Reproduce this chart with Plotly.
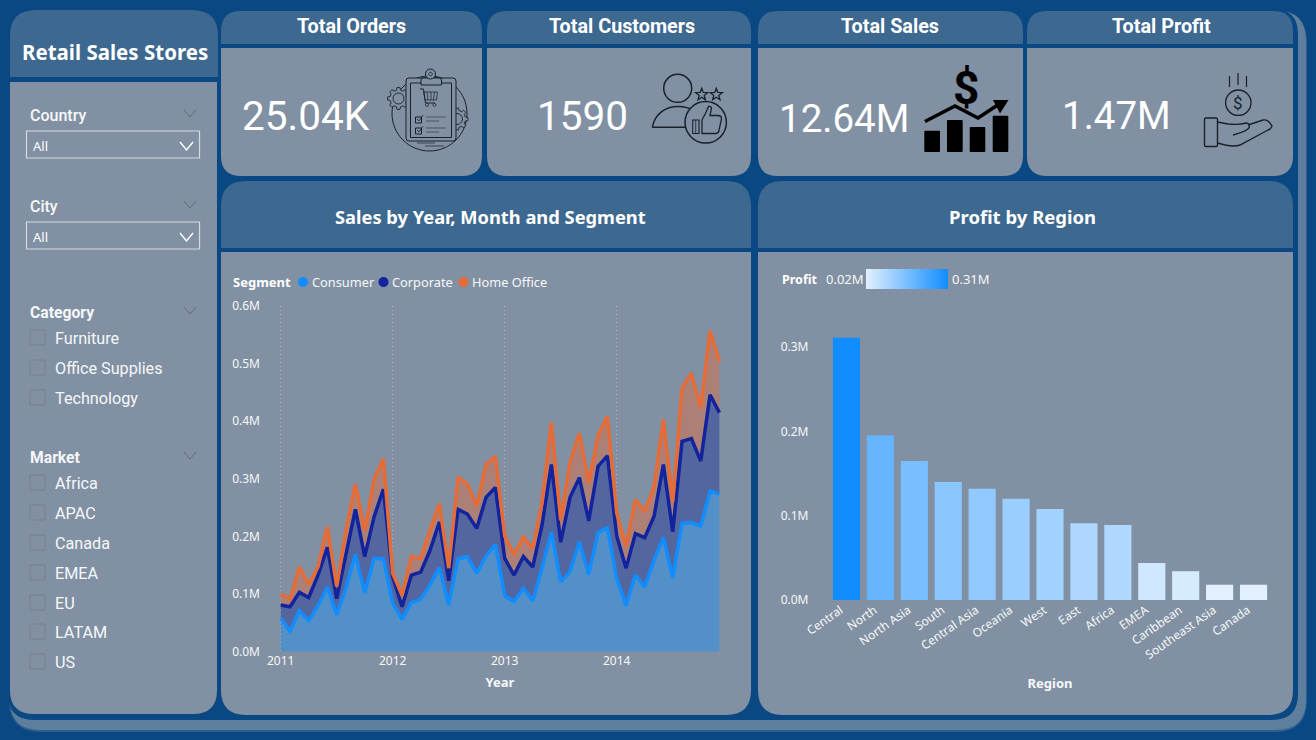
import re, math
import plotly.graph_objects as go

W, H = 1316, 740

# ---------- data ----------
years = ["2011", "2012", "2013", "2014"]
months = [f"{y}-{m:02d}" for y in years for m in range(1, 13)]
consumer = [.058,.036,.071,.054,.080,.112,.064,.110,.169,.102,.162,.161,
            .084,.056,.085,.091,.116,.146,.081,.161,.165,.136,.166,.186,
            .097,.087,.110,.088,.145,.207,.121,.139,.191,.134,.207,.215,
            .127,.080,.133,.112,.159,.198,.128,.223,.224,.218,.279,.273]
corporate = [.023,.042,.032,.040,.053,.069,.028,.063,.078,.063,.072,.121,
             .046,.022,.048,.047,.060,.079,.042,.086,.074,.078,.102,.099,
             .065,.046,.055,.059,.075,.118,.069,.129,.111,.093,.115,.125,
             .074,.065,.072,.086,.076,.127,.080,.142,.146,.113,.167,.142]
home_office = [.019,.013,.044,.023,.014,.036,.021,.038,.044,.045,.065,.053,
               .006,.020,.032,.024,.035,.032,.022,.056,.052,.039,.057,.054,
               .039,.035,.034,.032,.040,.073,.038,.061,.077,.066,.053,.068,
               .040,.038,.059,.045,.051,.078,.052,.093,.113,.092,.111,.089]
sales_ticks = [0.0, 0.1, 0.2, 0.3, 0.4, 0.5, 0.6]

regions = ["Central","North","North Asia","South","Central Asia","Oceania","West",
           "East","Africa","EMEA","Caribbean","Southeast Asia","Canada"]
profit = [.311,.195,.165,.140,.132,.120,.108,.091,.089,.044,.034,.018,.018]
profit_ticks = [0.0, 0.1, 0.2, 0.3]

category_items = ["Furniture", "Office Supplies", "Technology"]
market_items = ["Africa", "APAC", "Canada", "EMEA", "EU", "LATAM", "US"]
kpi_titles = ["Total Orders", "Total Customers", "Total Sales", "Total Profit"]
kpi_values = ["25.04K", "1590", "12.64M", "1.47M"]

# ---------- colours / fonts ----------
BG, HEAD, PANEL, BAND = "#094882", "#3D6890", "#8191A3", "#5E7E9D"
C_CONS, C_CORP, C_HOME = "#118DFF", "#12239E", "#E66C37"
INK = "#18212B"
F_DIN, F_UI = "Roboto", "Noto Sans"

# ---------- helpers (pixel space to paper space) ----------
def mp(d):
    out, i = [], 0
    for tok in re.findall(r"[MLCQZ]|-?\d+\.?\d*", d):
        if tok in "MLCQZ":
            out.append(tok); i = 0
        else:
            v = float(tok)
            out.append(f"{v / W:.5f}" if i % 2 == 0 else f"{1 - v / H:.5f}")
            i += 1
    return " ".join(out)

shapes, annots = [], []

def shape(d, fill=None, line=None, lw=1.0, layer="below", op=1):
    s = dict(type="path", xref="paper", yref="paper", path=mp(d), layer=layer, opacity=op,
             line=dict(color=line or "rgba(0,0,0,0)", width=lw if line else 0))
    if fill:
        s["fillcolor"] = fill
    shapes.append(s)

def rrect(x0, y0, x1, y1, tl=0, tr=0, br=0, bl=0):
    return (f"M {x0+tl} {y0} L {x1-tr} {y0} Q {x1} {y0} {x1} {y0+tr} L {x1} {y1-br} "
            f"Q {x1} {y1} {x1-br} {y1} L {x0+bl} {y1} Q {x0} {y1} {x0} {y1-bl} "
            f"L {x0} {y0+tl} Q {x0} {y0} {x0+tl} {y0} Z")

def circ(cx, cy, r):
    k = 0.5523 * r
    return (f"M {cx-r} {cy} C {cx-r} {cy-k} {cx-k} {cy-r} {cx} {cy-r} "
            f"C {cx+k} {cy-r} {cx+r} {cy-k} {cx+r} {cy} "
            f"C {cx+r} {cy+k} {cx+k} {cy+r} {cx} {cy+r} "
            f"C {cx-k} {cy+r} {cx-r} {cy+k} {cx-r} {cy} Z")

def poly(pts, close=False):
    d = "M " + " L ".join(f"{x:.2f} {y:.2f}" for x, y in pts)
    return d + (" Z" if close else "")

def star(cx, cy, r):
    return poly([(cx + (r if i % 2 == 0 else r * .42) * math.sin(i * math.pi / 5),
                  cy - (r if i % 2 == 0 else r * .42) * math.cos(i * math.pi / 5)) for i in range(10)], True)

def gear(cx, cy, r, n=8):
    pts = []
    for i in range(n):
        a = 2 * math.pi * i / n
        for da, rr in ((-.24, r * .78), (-.14, r), (.14, r), (.24, r * .78)):
            pts.append((cx + rr * math.cos(a + da), cy + rr * math.sin(a + da)))
    return poly(pts, True)

def text(x, y, s, size, color="white", font=F_DIN, anchor="left", bold=False, weight=None, **kw):
    f = dict(size=size, color=color, family=font)
    if weight:
        f["weight"] = weight
    annots.append(dict(xref="paper", yref="paper", x=x / W, y=1 - y / H, text=f"<b>{s}</b>" if bold else s,
                       showarrow=False, xanchor=anchor, yanchor="middle", borderpad=0, font=f, **kw))

# ---------- frame ----------
shape(rrect(9, 10.5, 1307, 732, 32, 32, 32, 32), BAND, op=.45)
shape(rrect(10, 10.5, 1306, 730, 30, 30, 30, 30), BAND)
shape(rrect(8, 9, 1298, 720, 26, 25, 26, 26), BG)

# ---------- panels ----------
shape(rrect(10, 10, 218, 77, 26, 26, 0, 0), HEAD)
shape(rrect(10, 82, 217, 714, 0, 0, 24, 24), PANEL)
cards = [(221, 482), (487, 751), (758, 1023), (1027, 1293)]
for (a, b) in cards:
    shape(rrect(a, 11, b, 44, 20, 20, 0, 0), HEAD)
    shape(rrect(a, 48, b, 176, 0, 0, 20, 20), PANEL)
for a, b in [(221, 751), (758, 1293)]:
    shape(rrect(a, 181, b, 248, 25, 25, 0, 0), HEAD)
    shape(rrect(a, 252, b, 715, 0, 0, 25, 25), PANEL)

# ---------- sidebar ----------
text(114.5, 52, "Retail Sales Stores", 20.5, font=F_UI, anchor="center", bold=True)

def chev(x0, x1, y0, y1, color, lw):
    shape(f"M {x0} {y0} L {(x0+x1)/2} {y1} L {x1} {y0}", None, color, lw)

for label, ly, by in (("Country", 115, 131), ("City", 206, 222)):
    text(28.5, ly + 1, label, 16, color="#F6F7F9", weight=500)
    chev(184, 196, ly - 5, ly + 2, "#5F6B78", 1)
    shape(f"M 26.5 {by} L 199.5 {by} L 199.5 {by+27} L 26.5 {by+27} Z", None, "#D5DADF", 1.2)
    text(32, by + 15, "All", 13, font=F_UI, color="#FFFFFF")
    chev(180, 193, by + 11, by + 19, "#FFFFFF", 1.4)

def check_list(title, ty, items, ys):
    text(28.5, ty + 0.5, title, 15.7, color="#F6F7F9", bold=True)
    chev(184, 196, ty - 5, ty + 2, "#5F6B78", 1)
    for it, y in zip(items, ys):
        shape(rrect(30, y - 8, 45, y + 7), None, "#77808C", 1)
        text(53.5, y + 0.5, it, 16.2, color="#F6F7F9")

check_list("Category", 312, category_items, [338, 368, 398])
check_list("Market", 457, market_items, [483, 513, 543, 573, 603, 632, 662])

# ---------- KPI cards ----------
title_x = [351.5, 621.5, 890, 1161.5]
value_x = [306, 582, 844, 1116]
value_y = [115.5, 115.5, 118.5, 115.5]
value_size = [40.5, 40.5, 38.5, 38.5]
for i in range(4):
    text(title_x[i], 27, kpi_titles[i], 19.8, anchor="center", bold=True)
    text(value_x[i], value_y[i], kpi_values[i], value_size[i], anchor="center")
text(1022.5, 216.5, "Profit by Region", 18.5, font=F_UI, anchor="center", bold=True)
text(490.5, 216.5, "Sales by Year, Month and Segment", 18.3, font=F_UI, anchor="center", bold=True)

# orders icon
shape(circ(429.5, 113.5, 37.5), None, INK, 1, "above")
shape(gear(398.5, 98.5, 11), PANEL, INK, .9, "above")
shape(circ(398.5, 98.5, 5.5), PANEL, INK, .9, "above")
shape(gear(457, 119, 11), PANEL, INK, .9, "above")
shape(circ(457, 119, 5.5), PANEL, INK, .9, "above")
shape(rrect(406, 78, 456, 141, 3, 3, 3, 3), PANEL, INK, 1, "above")
shape(rrect(410.5, 83, 451.5, 137.5), None, INK, 1, "above")
shape(rrect(421, 78, 441.5, 85, 2, 2, 0, 0), PANEL, INK, 1, "above")
shape(circ(430.5, 74, 5), PANEL, INK, 1, "above")
shape(circ(430.5, 74, 1.8), None, INK, .8, "above")
shape("M 420 89 L 423.5 89 L 425.5 103 L 435 103", None, INK, 1, "above")
shape("M 423.5 92 L 437.5 92 L 436.5 100 L 425 100 Z M 427 92 L 428 100 M 431 92 L 431 100 M 434.5 92 L 433.5 100", None, INK, .7, "above")
shape(circ(427, 105, 1.5), None, INK, .8, "above")
shape(circ(434.5, 105, 1.5), None, INK, .8, "above")
for y in (117, 128):
    shape(rrect(415.5, y, 421.5, y + 6), None, INK, 1, "above")
    shape(f"M 417 {y+2} L 419 {y+4} L 423 {y-2}", None, INK, .8, "above")
    shape(f"M 426 {y} L 446 {y}", None, "#4A5562", 1, "above")
    shape(f"M 426 {y+4} L 439 {y+4}", None, "#4A5562", 1, "above")
shape("M 417 143 L 435 143 M 425 146 L 444 146", None, INK, .7, "above")

# customers icon
shape(circ(677.7, 88.3, 14), None, INK, 1.5, "above")
shape("M 652.3 127.3 C 655 113 666 106.5 678 106.5 C 684 106.5 690 108 694 111 M 652.3 127.3 L 686 127.3", None, INK, 1.5, "above")
shape(circ(705.7, 122.3, 20.7), PANEL, INK, 1.5, "above")
shape(star(701.7, 94.6, 6.3), None, INK, 1.3, "above")
shape(star(716.3, 94.6, 6.3), None, INK, 1.3, "above")
shape(rrect(692.7, 120, 699, 133.5), None, INK, 1.1, "above")
shape("M 695.7 120 L 695.7 133.5", None, INK, .8, "above")
shape("M 702 120 L 702 133.5 L 716 133.5 Q 719 133 719 130 L 721.5 119 Q 721.5 115.5 718 115.5 L 710 115.5 "
      "L 711.5 108 Q 711 106 708.5 106.5 Q 706 113 702 120", None, INK, 1.3, "above")

# sales icon
for x0, x1, y0 in ((924.3, 940, 130.7), (947, 962.7, 120), (969.7, 985.3, 127), (992.7, 1008.3, 115.7)):
    shape(rrect(x0, y0, x1, 152, 1, 1, 1, 1), "#000000", None, 0, "above")
shape("M 925 121.5 L 955 106 L 978 118 L 1000 103.5", None, "#000000", 3.6, "above")
shape("M 993 100 L 1008.5 100 L 1000 113.5 Z", "#000000", None, 0, "above")
text(966, 88, "$", 46, color="#000000", font=F_DIN, anchor="center", bold=True)

# profit icon
shape("M 1229.5 76 L 1229.5 87 M 1238 73 L 1238 85 M 1246.5 76 L 1246.5 87", None, INK, 1.2, "above")
shape(circ(1238.3, 102.7, 12.7), None, INK, 1.3, "above")
text(1238.3, 103, "$", 17, color=INK, anchor="center")
shape(rrect(1204.5, 118, 1217.5, 146.5, 1.5, 1.5, 1.5, 1.5), None, INK, 1.4, "above")
shape("M 1217.5 122 L 1228 124 Q 1240 125 1246 123 Q 1250 123 1249 128 Q 1245 132 1233 135 "
      "M 1248 125 L 1263 120 Q 1268 119 1272 126 Q 1272 128 1268 130 L 1240 145 Q 1235 147 1225 145 L 1217.5 143",
      None, INK, 1.4, "above")

# ---------- chart legends ----------
text(231.5, 282, "Segment", 13, font=F_UI, bold=True)
for cx, tx, nm, col in ((303, 310.5, "Consumer", C_CONS), (383.5, 390.5, "Corporate", C_CORP), (463.5, 470.5, "Home Office", C_HOME)):
    shape(circ(cx, 282, 5), col, None, 0, "above")
    text(tx, 282, nm, 12.8, font=F_UI, color="#F6F7F9")
text(781, 279, "Profit", 12.5, font=F_UI, bold=True)
text(825, 279, f"{min(profit):.2f}M", 13, font=F_UI, color="#F6F7F9")
text(951, 279, f"{max(profit):.2f}M", 13, font=F_UI, color="#F6F7F9")

# ---------- traces ----------
fig = go.Figure()
for name, vals, col, fill in (("Consumer", consumer, C_CONS, "#5490C8"),
                              ("Corporate", corporate, C_CORP, "#5366A0"),
                              ("Home Office", home_office, C_HOME, "#AC8076")):
    fig.add_trace(go.Scatter(x=months, y=vals, name=name, mode="lines", stackgroup="one",
                             line=dict(color=col, width=3.5), fillcolor=fill,
                             xaxis="x", yaxis="y", showlegend=False))
fig.add_trace(go.Bar(x=regions, y=profit, xaxis="x2", yaxis="y2", showlegend=False,
                     marker=dict(color=profit, cmin=min(profit), cmax=max(profit),
                                 colorscale=[[0, "#E2F0FF"], [1, C_CONS]], line=dict(width=0),
                                 showscale=True,
                                 colorbar=dict(orientation="h", x=907 / W, xanchor="center", y=1 - 279 / H,
                                               yanchor="middle", len=82, lenmode="pixels", thickness=20,
                                               thicknessmode="pixels", outlinewidth=0, borderwidth=0,
                                               xpad=0, ypad=0, ticks="", showticklabels=False))))

tick = dict(size=12, color="#F6F7F9", family=F_UI)
title_f = dict(size=13, color="#F6F7F9", family=F_UI)
step = 112 / 12
fig.update_layout(
    width=W, height=H, margin=dict(l=0, r=0, t=0, b=0, autoexpand=False),
    paper_bgcolor=BG, plot_bgcolor="rgba(0,0,0,0)", bargap=0.2,
    shapes=shapes, annotations=annots, hovermode=False,
    xaxis=dict(domain=[270 / W, 730 / W], type="category", categoryorder="array", categoryarray=months,
               range=[-(280.7 - 270) / step, 47 + (730 - 719.4) / step],
               tickmode="array", tickvals=[f"{y}-01" for y in years], ticktext=years,
               showgrid=True, gridcolor="rgba(255,255,255,0.4)", griddash="1px,3px", gridwidth=1,
               zeroline=False, showline=False, ticks="", tickfont=tick,
               title=dict(text="<b>Year</b>", font=title_f, standoff=10)),
    yaxis=dict(domain=[1 - 651.7 / H, 1 - 306 / H], range=[0, 0.6], tickmode="array", tickvals=sales_ticks,
               ticktext=[f"{v:.1f}M" for v in sales_ticks], showgrid=False, zeroline=False, showline=False,
               ticks="", tickfont=tick, ticklabelstandoff=9),
    xaxis2=dict(domain=[829.5 / W, 1270.5 / W], type="category", categoryorder="array", categoryarray=regions,
                range=[-0.5, 12.5], anchor="y2", showgrid=False, zeroline=False, showline=False, ticks="",
                tickangle=-35, tickfont=tick, ticklabelshift=-6,
                title=dict(text="<b>Region</b>", font=title_f, standoff=17)),
    yaxis2=dict(domain=[1 - 600 / H, 1 - 322 / H], range=[0, 278 / 843], anchor="x2", tickmode="array",
                tickvals=profit_ticks, ticktext=[f"{v:.1f}M" for v in profit_ticks], showgrid=False,
                zeroline=False, showline=False, ticks="", tickfont=tick, ticklabelstandoff=20),
)
fig.write_html("out.html", config=dict(displayModeBar=False),
               post_script="document.body.style.margin='0';document.body.style.overflow='hidden';")
